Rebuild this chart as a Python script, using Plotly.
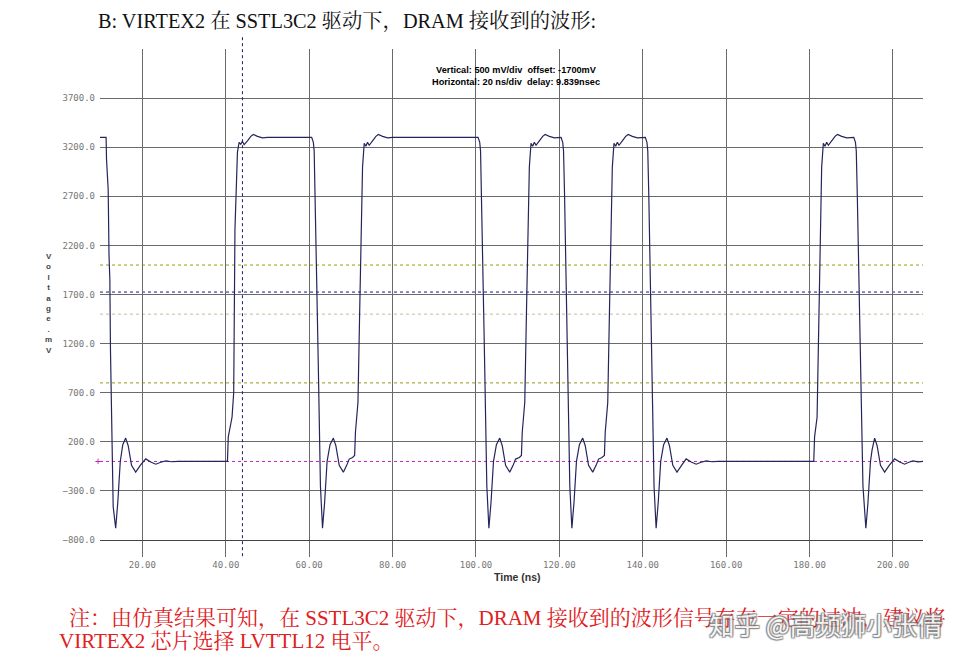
import plotly.graph_objects as go

# ---------------- data ----------------
time_ns = [
    9.84, 11.30, 11.40, 11.80, 12.00, 12.20, 12.35, 12.60, 13.00, 13.60, 14.10, 14.70, 15.30, 16.00,
    16.60, 17.40, 18.40, 19.50, 20.80, 22.00, 23.20, 24.40, 25.60, 27.00, 28.50, 40.40,
    40.60, 41.50, 41.90, 42.20, 42.40, 42.80, 43.20, 43.60, 44.00, 44.40, 45.20, 46.00, 46.60, 47.60,
    48.80, 50.00, 60.60,
    61.00, 61.20, 61.45, 62.00, 62.20, 62.40, 62.70, 63.20, 63.70, 64.30, 65.00, 65.80, 66.40, 67.20,
    68.20, 69.00, 69.60, 70.40, 70.90,
    71.10, 71.70, 72.10, 72.50, 72.80, 73.20, 73.60, 74.00, 74.40, 75.20, 76.00, 76.60, 77.60, 78.80,
    80.00, 100.50,
    100.90, 101.10, 101.35, 101.90, 102.10, 102.30, 102.60, 103.10, 103.60, 104.20, 104.90, 105.70,
    106.30, 107.10, 108.10, 108.90, 109.50, 110.40, 110.90,
    111.10, 111.70, 112.10, 112.50, 112.80, 113.20, 113.60, 114.00, 114.40, 115.20, 116.00, 116.60,
    117.60, 118.80, 120.40,
    120.80, 121.00, 121.25, 121.80, 122.00, 122.20, 122.50, 123.00, 123.50, 124.10, 124.80, 125.60,
    126.20, 127.00, 128.00, 128.80, 129.40, 130.20, 130.80,
    131.00, 131.60, 132.00, 132.40, 132.70, 133.10, 133.50, 133.90, 134.30, 135.10, 135.90, 136.50,
    137.50, 138.70, 140.60,
    141.00, 141.20, 141.45, 142.00, 142.20, 142.40, 142.70, 143.20, 143.70, 144.30, 145.00, 145.80,
    146.40, 147.20, 148.20, 149.30, 150.40, 151.60, 152.80, 154.00, 155.20, 156.60, 158.00, 181.00,
    181.20, 181.80, 182.20, 182.60, 182.90, 183.30, 183.70, 184.10, 184.50, 185.30, 186.10, 186.70,
    187.70, 188.90, 190.60,
    191.00, 191.20, 191.45, 192.00, 192.20, 192.40, 192.80, 193.50, 194.00, 194.60, 195.00, 195.60,
    196.20, 197.00, 198.00, 199.10, 200.40, 201.60, 202.80, 203.80, 204.80, 206.00, 207.20,
]
voltage_mv = [
    3300, 3300, 3080, 2770, 2100, 1850, 1140, 320, -460, -680, -420, 0, 170, 238,
    160, -40, -109, -40, 26, -5, -28, -8, 6, -3, 0, 0,
    250, 450, 700, 2360, 2700, 3150, 3250, 3230, 3260, 3225, 3265, 3310, 3330, 3310,
    3295, 3300, 3300,
    3250, 3160, 2700, 1400, 950, 420, -250, -680, -420, 0, 170, 238, 160, -40,
    -109, -40, 24, 40, 60,
    300, 600, 1500, 2500, 3000, 3240, 3210, 3250, 3220, 3265, 3310, 3330, 3310, 3295,
    3300, 3300,
    3250, 3160, 2700, 1400, 950, 420, -250, -680, -420, 0, 170, 238,
    160, -40, -109, -40, 24, 40, 60,
    300, 600, 1500, 2500, 3000, 3240, 3210, 3250, 3220, 3265, 3310, 3330,
    3310, 3295, 3300,
    3250, 3160, 2700, 1400, 950, 420, -250, -680, -420, 0, 170, 238,
    160, -40, -109, -40, 24, 40, 60,
    300, 600, 1500, 2500, 3000, 3240, 3210, 3250, 3220, 3265, 3310, 3330,
    3310, 3295, 3300,
    3250, 3160, 2700, 1400, 950, 420, -250, -680, -420, 0, 170, 238,
    160, -40, -109, -40, 26, -5, -28, -8, 6, -3, 0, 0,
    250, 450, 1500, 2500, 3000, 3240, 3210, 3250, 3220, 3265, 3310, 3330,
    3310, 3295, 3300,
    3250, 3160, 2700, 1400, 950, 420, -250, -680, -420, 0, 120, 238,
    160, -40, -109, -40, 26, -5, -28, -8, 6, -5, 0,
]

x_ticks = [20, 40, 60, 80, 100, 120, 140, 160, 180, 200]
y_ticks = [-800, -300, 200, 700, 1200, 1700, 2200, 2700, 3200, 3700]
x_range = [9.839, 207.2]
y_range = [-800, 4200]

ref_levels = [2000, 1725, 1500, 800, 0]
ref_colors = ["#9a9a10", "#1a1a80", "#c8bb98", "#9a9a10", "#c020c0"]
cursor_time = 44.0

title_text = "B: VIRTEX2 在 SSTL3C2 驱动下，DRAM 接收到的波形:"
scope_lines = ["Vertical: 500 mV/div  offset: -1700mV", "Horizontal: 20 ns/div  delay: 9.839nsec"]
note_line1 = "注：由仿真结果可知，在 SSTL3C2 驱动下，DRAM 接收到的波形信号存在一定的过冲，建议将"
note_line2 = "VIRTEX2 芯片选择 LVTTL12 电平。"
watermark = "知乎 @高频狮小张倩"
y_title = "Voltage mV"
x_title = "Time (ns)"

# ---------------- figure ----------------
GRID = "#6a6a6a"
MONO = "DejaVu Sans Mono, monospace"
NARROW = "Liberation Sans Narrow, Arial Narrow, Liberation Sans, sans-serif"
SERIF = "Liberation Serif, Times New Roman, Noto Serif CJK SC, Noto Sans CJK SC, serif"

fig = go.Figure()

for lvl, col in zip(ref_levels, ref_colors):
    fig.add_shape(type="line", xref="paper", x0=0, x1=1, yref="y", y0=lvl, y1=lvl,
                  line=dict(color=col, width=1, dash="dot"), layer="below")

fig.add_shape(type="line", xref="x", x0=cursor_time, x1=cursor_time, yref="paper", y0=-0.033, y1=1.028,
              line=dict(color="#1a1a70", width=1, dash="3px,3px"))

fig.add_trace(go.Scatter(x=time_ns, y=voltage_mv, mode="lines",
                         line=dict(color="#25255e", width=1.2), hoverinfo="skip", showlegend=False))

fig.add_annotation(xref="paper", x=-0.003, yref="y", y=ref_levels[-1], text="+", showarrow=False,
                   font=dict(color="#c020c0", size=10, family=MONO), xanchor="center", yanchor="middle")

# header / scope info
fig.add_annotation(xref="paper", yref="paper", x=-0.005, y=1.055, text=title_text, showarrow=False,
                   xanchor="left", yanchor="middle", font=dict(family=SERIF, size=20.3, color="#111"))
fig.add_annotation(xref="paper", yref="paper", x=0.5055, y=0.946,
                   text="<br>".join("<b>%s</b>" % s for s in scope_lines), showarrow=False,
                   xanchor="center", yanchor="middle", align="center",
                   font=dict(family=NARROW, size=9.2, color="#000"))

# stacked y-axis title
fig.add_annotation(xref="paper", yref="paper", x=-0.063, y=0.4807,
                   text="<b>" + "<br>".join(list(y_title.replace(" ", "."))) + "</b>",
                   showarrow=False, xanchor="center", yanchor="middle",
                   font=dict(family=NARROW, size=8, color="#444"))

fig.add_annotation(xref="paper", yref="paper", x=0.507, y=-0.075, text="<b>%s</b>" % x_title, showarrow=False,
                   xanchor="center", yanchor="middle", font=dict(family=NARROW, size=10.5, color="#333"))

# bottom note
fig.add_annotation(xref="paper", yref="paper", x=-0.0401, y=-0.159, text=note_line1, showarrow=False,
                   xanchor="left", yanchor="middle", font=dict(family=SERIF, size=21, color="#e0201c"))
fig.add_annotation(xref="paper", yref="paper", x=-0.0522, y=-0.2057, text=note_line2, showarrow=False,
                   xanchor="left", yanchor="middle", font=dict(family=SERIF, size=21, color="#e0201c"))
fig.add_annotation(xref="paper", yref="paper", x=1.027, y=-0.17, text=watermark, showarrow=False,
                   xanchor="right", yanchor="middle", opacity=0.85,
                   font=dict(family="Noto Sans CJK SC, sans-serif", size=25.5, color="#f4f4f4",
                             shadow="1px 1px 1px #777, -1px -1px 1px #777, 1px -1px 1px #777, -1px 1px 1px #777"))

fig.update_xaxes(range=x_range, tickvals=x_ticks, tickformat=".2f", showgrid=True, gridcolor=GRID,
                 gridwidth=1, ticks="outside", ticklen=16, tickcolor=GRID, tickwidth=1,
                 tickfont=dict(family=MONO, size=9, color="#777"), zeroline=False,
                 showline=True, linecolor="#444", linewidth=1)
fig.update_yaxes(range=y_range, tickvals=y_ticks, tickformat=".1f", showgrid=True, gridcolor=GRID,
                 gridwidth=1, ticks="", tickfont=dict(family=MONO, size=9, color="#777"),
                 zeroline=False, showline=False, ticklabelstandoff=4)

# the page adds an 8px body margin, so the figure is sized to fit the 972x662 window
fig.update_layout(width=964, height=654, margin=dict(l=92, r=49, t=41, b=122),
                  plot_bgcolor="white", paper_bgcolor="white", showlegend=False)

fig.write_html("out.html")
